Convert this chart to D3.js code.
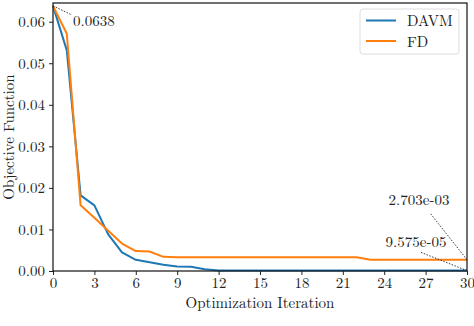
<!DOCTYPE html>
<html>
<head>
<meta charset="UTF-8">
<script src="https://d3js.org/d3.v7.min.js"></script>
<style>
  body { margin: 0; background: #fff; }
</style>
</head>
<body>
<div id="chart"></div>
<script>
    const iterations = d3.range(0, 31);
    const davm = [0.0638, 0.0531, 0.0182, 0.0158, 0.0088, 0.0045, 0.0027, 0.0021, 0.0015, 0.0011, 0.0010, 0.0004,
        0.0001, 0.0001, 0.0001, 0.0001, 0.0001, 0.0001, 0.0001, 0.0001, 0.0001, 0.0001, 0.0001, 0.0001,
        0.0001, 0.0001, 0.0001, 0.0001, 0.0001, 0.0001, 0.00009575];
    const fd = [0.0638, 0.0571, 0.0158, 0.0128, 0.0097, 0.0066, 0.0048, 0.0047, 0.0034, 0.0033, 0.0033, 0.0033,
        0.0033, 0.0033, 0.0033, 0.0033, 0.0033, 0.0033, 0.0033, 0.0033, 0.0033, 0.0033, 0.0033, 0.0027,
        0.0027, 0.0027, 0.0027, 0.0027, 0.0027, 0.0027, 0.002703];
    const xTicks = [0, 3, 6, 9, 12, 15, 18, 21, 24, 27, 30];
    const yTicks = [0, 0.01, 0.02, 0.03, 0.04, 0.05, 0.06];
    const seriesNames = ["DAVM", "FD"];
    const colors = ["#1f77b4", "#ff7f0e"];

    const FONT = '"Latin Modern Roman", "Liberation Serif", serif';
    const FS = "15px";
    const width = 474, height = 326;
    const margin = { left: 53, right: 7, top: 3, bottom: 55 };

    const svg = d3.select("#chart").append("svg").attr("width", width).attr("height", height);

    const x = d3.scaleLinear().domain([0, 30]).range([margin.left, width - margin.right]);
    const y = d3.scaleLinear().domain([0, 0.0645]).range([height - margin.bottom, margin.top]);

    const styleText = sel => sel.style("font-family", FONT).style("font-size", FS).attr("fill", "#222");

    // axes
    svg.append("g")
        .attr("transform", `translate(0,${height - margin.bottom})`)
        .call(d3.axisBottom(x).tickValues(xTicks).tickSize(4).tickPadding(2).tickFormat(d3.format("d")))
        .call(g => g.select(".domain").remove())
        .call(g => g.selectAll("line").attr("stroke", "#222"))
        .call(g => styleText(g.selectAll("text")));

    svg.append("g")
        .attr("transform", `translate(${margin.left},0)`)
        .call(d3.axisLeft(y).tickValues(yTicks).tickSize(4).tickPadding(4).tickFormat(d3.format(".2f")))
        .call(g => g.select(".domain").remove())
        .call(g => g.selectAll("line").attr("stroke", "#222"))
        .call(g => styleText(g.selectAll("text")));

    // lines
    const line = d3.line().x((d, i) => x(iterations[i])).y(d => y(d));
    [davm, fd].forEach((s, k) => {
        svg.append("path")
            .datum(s)
            .attr("d", line)
            .attr("fill", "none")
            .attr("stroke", colors[k])
            .attr("stroke-width", 2)
            .attr("stroke-linejoin", "round");
    });

    // frame
    svg.append("rect")
        .attr("x", margin.left).attr("y", margin.top)
        .attr("width", width - margin.left - margin.right)
        .attr("height", height - margin.top - margin.bottom)
        .attr("fill", "none").attr("stroke", "#111").attr("stroke-width", 1.2);

    // annotations
    const notes = [
        { xi: 0, v: davm[0], label: "0.0638", tx: 73, ty: 26, lx: 72, ly: 15, anchor: "start" },
        { xi: 30, v: fd[30], label: "2.703e-03", tx: 419, ty: 205, lx: 430, ly: 213, anchor: "middle" },
        { xi: 30, v: davm[30], label: "9.575e-05", tx: 416, ty: 247, lx: 420, ly: 252, anchor: "middle" }
    ];
    notes.forEach(n => {
        svg.append("line")
            .attr("x1", x(n.xi)).attr("y1", y(n.v))
            .attr("x2", n.lx).attr("y2", n.ly)
            .attr("stroke", "#222").attr("stroke-width", 0.9)
            .attr("stroke-dasharray", "1.5,1.5");
        svg.append("text")
            .attr("x", n.tx).attr("y", n.ty)
            .attr("text-anchor", n.anchor)
            .call(styleText)
            .text(n.label);
    });

    // legend
    const lg = svg.append("g").attr("transform", "translate(360,9)");
    lg.append("rect").attr("width", 99).attr("height", 45).attr("rx", 3)
        .attr("fill", "#fff").attr("stroke", "#ddd");
    seriesNames.forEach((name, i) => {
        lg.append("line").attr("x1", 6).attr("x2", 36).attr("y1", 11.5 + i * 20.5).attr("y2", 11.5 + i * 20.5)
            .attr("stroke", colors[i]).attr("stroke-width", 2);
        lg.append("text").attr("x", 47).attr("y", 17 + i * 20.5).call(styleText).text(name);
    });

    // axis titles
    svg.append("text")
        .attr("x", (margin.left + width - margin.right) / 2).attr("y", 308)
        .attr("text-anchor", "middle").call(styleText)
        .text("Optimization Iteration");
    svg.append("text")
        .attr("transform", `translate(14,${(margin.top + height - margin.bottom) / 2}) rotate(-90)`)
        .attr("text-anchor", "middle").call(styleText)
        .text("Objective Function");
</script>
</body>
</html>
